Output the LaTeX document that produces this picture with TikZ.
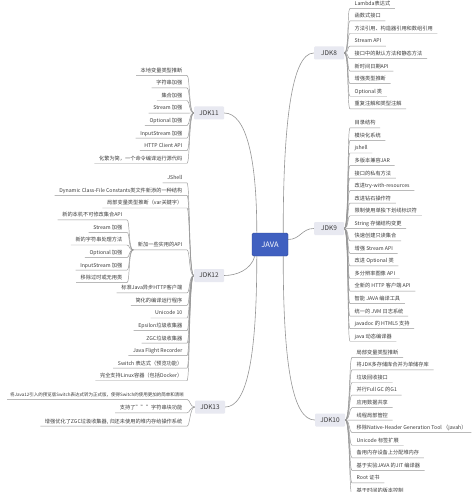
\documentclass[tikz,border=0pt]{standalone}
\usepackage{fontspec}
\setmainfont{Noto Sans CJK SC}
\usetikzlibrary{positioning}
\definecolor{javablue}{RGB}{64,96,192}
\definecolor{javaedge}{RGB}{45,70,150}
\definecolor{hubgrey}{RGB}{232,233,241}
\definecolor{linegrey}{RGB}{150,150,150}
\definecolor{textgrey}{RGB}{60,60,60}

\begin{document}
\begin{tikzpicture}[
    x=1pt, y=-1pt,
    node distance=3.15pt,
    root/.style={draw=javaedge, fill=javablue, rounded corners=1.5pt, text=white, font=\fontsize{7.5}{8}\selectfont, minimum width=36pt, minimum height=23pt},
    hub/.style={fill=hubgrey, rounded corners=1pt, text=textgrey, font=\fontsize{6.5}{7}\selectfont, minimum width=30pt, minimum height=13pt},
    leaf/.style={text=textgrey, font=\fontsize{5.2}{6}\selectfont, minimum height=9pt, inner xsep=4.5pt, inner ysep=0pt, text height=4.2pt, text depth=1pt},
    leafr/.style={leaf, anchor=north west},
    leafl/.style={leaf, anchor=north east},
    narrow/.style={font=\fontsize{4.5}{5}\selectfont, inner xsep=3pt},
    trunk/.style={draw=linegrey, line width=0.6pt},
    twig/.style={draw=linegrey, line width=0.45pt}
]
\useasboundingbox[fill=white] (0,0) rectangle (474,492);

% centre and versions
\node[root] (java) at (270,244.5) {JAVA};
\node[hub] (jdk8) at (329,53) {JDK8};
\node[hub] (jdk9) at (329,228.5) {JDK9};
\node[hub] (jdk10) at (330,420) {JDK10};
\node[hub] (jdk11) at (209,113) {JDK11};
\node[hub] (jdk12) at (209,275.5) {JDK12};
\node[hub] (jdk13) at (210,407) {JDK13};

\draw[trunk] ([xshift=-5pt]java.north east) .. controls +(0,-110) and +(-22,0) .. (jdk8.west);
\draw[trunk] ([yshift=5pt]java.east) .. controls +(12,0) and +(-12,0) .. (jdk9.west);
\draw[trunk] ([xshift=-5pt]java.south east) .. controls +(0,110) and +(-22,0) .. (jdk10.west);
\draw[trunk] ([xshift=5pt]java.north west) .. controls +(0,-75) and +(22,0) .. (jdk11.east);
\draw[trunk] ([xshift=3pt]java.south west) .. controls +(-4,14) and +(12,0) .. (jdk12.east);
\draw[trunk] ([xshift=5pt]java.south west) .. controls +(0,100) and +(22,0) .. (jdk13.east);

% JDK8
\node[leafr] (l8a) at (350,-1) {Lambda表达式};
\node[below=of l8a.south west, leafr] (l8b) {函数式接口};
\node[below=of l8b.south west, leafr] (l8c) {方法引用、构造器引用和数组引用};
\node[below=of l8c.south west, leafr] (l8d) {Stream API};
\node[below=of l8d.south west, leafr] (l8e) {接口中的默认方法和静态方法};
\node[below=of l8e.south west, leafr] (l8f) {新时间日期API};
\node[below=of l8f.south west, leafr] (l8g) {增强类型推断};
\node[below=of l8g.south west, leafr] (l8h) {Optional 类};
\node[below=of l8h.south west, leafr] (l8i) {重复注解和类型注解};

\draw[twig] (jdk8.east) .. controls +(5,0) and +(-3,0) .. (l8a.south west) -- (l8a.south east);
\draw[twig] (jdk8.east) .. controls +(5,0) and +(-3,0) .. (l8b.south west) -- (l8b.south east);
\draw[twig] (jdk8.east) .. controls +(5,0) and +(-3,0) .. (l8c.south west) -- (l8c.south east);
\draw[twig] (jdk8.east) .. controls +(5,0) and +(-3,0) .. (l8d.south west) -- (l8d.south east);
\draw[twig] (jdk8.east) .. controls +(5,0) and +(-3,0) .. (l8e.south west) -- (l8e.south east);
\draw[twig] (jdk8.east) .. controls +(5,0) and +(-3,0) .. (l8f.south west) -- (l8f.south east);
\draw[twig] (jdk8.east) .. controls +(5,0) and +(-3,0) .. (l8g.south west) -- (l8g.south east);
\draw[twig] (jdk8.east) .. controls +(5,0) and +(-3,0) .. (l8h.south west) -- (l8h.south east);
\draw[twig] (jdk8.east) .. controls +(5,0) and +(-3,0) .. (l8i.south west) -- (l8i.south east);

% JDK9
\node[leafr] (l9a) at (350,118.5) {目录结构};
\node[below=of l9a.south west, leafr] (l9b) {模块化系统};
\node[below=of l9b.south west, leafr] (l9c) {jshell};
\node[below=of l9c.south west, leafr] (l9d) {多版本兼容JAR};
\node[below=of l9d.south west, leafr] (l9e) {接口的私有方法};
\node[below=of l9e.south west, leafr] (l9f) {改进try-with-resources};
\node[below=of l9f.south west, leafr] (l9g) {改进钻石操作符};
\node[below=of l9g.south west, leafr] (l9h) {限制使用单独下划线标识符};
\node[below=of l9h.south west, leafr] (l9i) {String 存储结构变更};
\node[below=of l9i.south west, leafr] (l9j) {快速创建只读集合};
\node[below=of l9j.south west, leafr] (l9k) {增强 Stream API};
\node[below=of l9k.south west, leafr] (l9l) {改进 Optional 类};
\node[below=of l9l.south west, leafr] (l9m) {多分辨率图像 API};
\node[below=of l9m.south west, leafr] (l9n) {全新的 HTTP 客户端 API};
\node[below=of l9n.south west, leafr] (l9o) {智能 JAVA 编译工具};
\node[below=of l9o.south west, leafr] (l9p) {统一的 JVM 日志系统};
\node[below=of l9p.south west, leafr] (l9q) {javadoc 的 HTML5 支持};
\node[below=of l9q.south west, leafr] (l9r) {java 动态编译器};

\draw[twig] (jdk9.east) .. controls +(5,0) and +(-3,0) .. (l9a.south west) -- (l9a.south east);
\draw[twig] (jdk9.east) .. controls +(5,0) and +(-3,0) .. (l9b.south west) -- (l9b.south east);
\draw[twig] (jdk9.east) .. controls +(5,0) and +(-3,0) .. (l9c.south west) -- (l9c.south east);
\draw[twig] (jdk9.east) .. controls +(5,0) and +(-3,0) .. (l9d.south west) -- (l9d.south east);
\draw[twig] (jdk9.east) .. controls +(5,0) and +(-3,0) .. (l9e.south west) -- (l9e.south east);
\draw[twig] (jdk9.east) .. controls +(5,0) and +(-3,0) .. (l9f.south west) -- (l9f.south east);
\draw[twig] (jdk9.east) .. controls +(5,0) and +(-3,0) .. (l9g.south west) -- (l9g.south east);
\draw[twig] (jdk9.east) .. controls +(5,0) and +(-3,0) .. (l9h.south west) -- (l9h.south east);
\draw[twig] (jdk9.east) .. controls +(5,0) and +(-3,0) .. (l9i.south west) -- (l9i.south east);
\draw[twig] (jdk9.east) .. controls +(5,0) and +(-3,0) .. (l9j.south west) -- (l9j.south east);
\draw[twig] (jdk9.east) .. controls +(5,0) and +(-3,0) .. (l9k.south west) -- (l9k.south east);
\draw[twig] (jdk9.east) .. controls +(5,0) and +(-3,0) .. (l9l.south west) -- (l9l.south east);
\draw[twig] (jdk9.east) .. controls +(5,0) and +(-3,0) .. (l9m.south west) -- (l9m.south east);
\draw[twig] (jdk9.east) .. controls +(5,0) and +(-3,0) .. (l9n.south west) -- (l9n.south east);
\draw[twig] (jdk9.east) .. controls +(5,0) and +(-3,0) .. (l9o.south west) -- (l9o.south east);
\draw[twig] (jdk9.east) .. controls +(5,0) and +(-3,0) .. (l9p.south west) -- (l9p.south east);
\draw[twig] (jdk9.east) .. controls +(5,0) and +(-3,0) .. (l9q.south west) -- (l9q.south east);
\draw[twig] (jdk9.east) .. controls +(5,0) and +(-3,0) .. (l9r.south west) -- (l9r.south east);

% JDK10
\node[leafr] (l10a) at (352,348) {局部变量类型推断};
\node[below=of l10a.south west, leafr] (l10b) {将JDK多存储库合并为单储存库};
\node[below=of l10b.south west, leafr] (l10c) {垃圾回收接口};
\node[below=of l10c.south west, leafr] (l10d) {并行Full GC 的G1};
\node[below=of l10d.south west, leafr] (l10e) {应用数据共享};
\node[below=of l10e.south west, leafr] (l10f) {线程局部管控};
\node[below=of l10f.south west, leafr] (l10g) {移除Native-Header Generation Tool （javah）};
\node[below=of l10g.south west, leafr] (l10h) {Unicode 标签扩展};
\node[below=of l10h.south west, leafr] (l10i) {备用内存设备上分配堆内存};
\node[below=of l10i.south west, leafr] (l10j) {基于实验JAVA 的JIT 编译器};
\node[below=of l10j.south west, leafr] (l10k) {Root 证书};
\node[below=of l10k.south west, leafr] (l10l) {基于时间的版本控制};

\draw[twig] (jdk10.east) .. controls +(5,0) and +(-3,0) .. (l10a.south west) -- (l10a.south east);
\draw[twig] (jdk10.east) .. controls +(5,0) and +(-3,0) .. (l10b.south west) -- (l10b.south east);
\draw[twig] (jdk10.east) .. controls +(5,0) and +(-3,0) .. (l10c.south west) -- (l10c.south east);
\draw[twig] (jdk10.east) .. controls +(5,0) and +(-3,0) .. (l10d.south west) -- (l10d.south east);
\draw[twig] (jdk10.east) .. controls +(5,0) and +(-3,0) .. (l10e.south west) -- (l10e.south east);
\draw[twig] (jdk10.east) .. controls +(5,0) and +(-3,0) .. (l10f.south west) -- (l10f.south east);
\draw[twig] (jdk10.east) .. controls +(5,0) and +(-3,0) .. (l10g.south west) -- (l10g.south east);
\draw[twig] (jdk10.east) .. controls +(5,0) and +(-3,0) .. (l10h.south west) -- (l10h.south east);
\draw[twig] (jdk10.east) .. controls +(5,0) and +(-3,0) .. (l10i.south west) -- (l10i.south east);
\draw[twig] (jdk10.east) .. controls +(5,0) and +(-3,0) .. (l10j.south west) -- (l10j.south east);
\draw[twig] (jdk10.east) .. controls +(5,0) and +(-3,0) .. (l10k.south west) -- (l10k.south east);
\draw[twig] (jdk10.east) .. controls +(5,0) and +(-3,0) .. (l10l.south west) -- (l10l.south east);

% JDK11
\node[leafl] (l11a) at (187,66) {本地变量类型推断};
\node[below=of l11a.south east, leafl] (l11b) {字符串加强};
\node[below=of l11b.south east, leafl] (l11c) {集合加强};
\node[below=of l11c.south east, leafl] (l11d) {Stream 加强};
\node[below=of l11d.south east, leafl] (l11e) {Optional 加强};
\node[below=of l11e.south east, leafl] (l11f) {InputStream 加强};
\node[below=of l11f.south east, leafl] (l11g) {HTTP Client API};
\node[below=of l11g.south east, leafl] (l11h) {化繁为简，一个命令编译运行源代码};

\draw[twig] (jdk11.west) .. controls +(-5,0) and +(3,0) .. (l11a.south east) -- (l11a.south west);
\draw[twig] (jdk11.west) .. controls +(-5,0) and +(3,0) .. (l11b.south east) -- (l11b.south west);
\draw[twig] (jdk11.west) .. controls +(-5,0) and +(3,0) .. (l11c.south east) -- (l11c.south west);
\draw[twig] (jdk11.west) .. controls +(-5,0) and +(3,0) .. (l11d.south east) -- (l11d.south west);
\draw[twig] (jdk11.west) .. controls +(-5,0) and +(3,0) .. (l11e.south east) -- (l11e.south west);
\draw[twig] (jdk11.west) .. controls +(-5,0) and +(3,0) .. (l11f.south east) -- (l11f.south west);
\draw[twig] (jdk11.west) .. controls +(-5,0) and +(3,0) .. (l11g.south east) -- (l11g.south west);
\draw[twig] (jdk11.west) .. controls +(-5,0) and +(3,0) .. (l11h.south east) -- (l11h.south west);

% JDK12
\node[leafl] (l12a) at (187,173.5) {JShell};
\node[below=of l12a.south east, leafl] (l12b) {Dynamic Class-File Constants类文件新添的一种结构};
\node[below=of l12b.south east, leafl] (l12c) {局部变量类型推断（var关键字）};
\node[leafl] (api) at (187,240.5) {新加一些实用的API};
\node[leafl] (api1) at (127,210.5) {新的本机不可修改集合API};
\node[below=of api1.south east, leafl] (api2) {Stream 加强};
\node[below=of api2.south east, leafl] (api3) {新的字符串处理方法};
\node[below=of api3.south east, leafl] (api4) {Optional 加强};
\node[below=of api4.south east, leafl] (api5) {InputStream 加强};
\node[below=of api5.south east, leafl] (api6) {移除过时或无用类};
\node[leafl] (l12d) at (187,283.5) {标准Java异步HTTP客户端};
\node[below=of l12d.south east, leafl] (l12e) {简化的编译运行程序};
\node[below=of l12e.south east, leafl] (l12f) {Unicode 10};
\node[below=of l12f.south east, leafl] (l12g) {Epsilon垃圾收集器};
\node[below=of l12g.south east, leafl] (l12h) {ZGC垃圾收集器};
\node[below=of l12h.south east, leafl] (l12i) {Java Flight Recorder};
\node[below=of l12i.south east, leafl] (l12j) {Switch 表达式（预览功能）};
\node[below=of l12j.south east, leafl] (l12k) {完全支持Linux容器（包括Docker）};

\draw[twig] (jdk12.west) .. controls +(-5,0) and +(3,0) .. (l12a.south east) -- (l12a.south west);
\draw[twig] (jdk12.west) .. controls +(-5,0) and +(3,0) .. (l12b.south east) -- (l12b.south west);
\draw[twig] (jdk12.west) .. controls +(-5,0) and +(3,0) .. (l12c.south east) -- (l12c.south west);
\draw[twig] (jdk12.west) .. controls +(-5,0) and +(3,0) .. (api.south east) -- (api.south west);
\draw[twig] (jdk12.west) .. controls +(-5,0) and +(3,0) .. (l12d.south east) -- (l12d.south west);
\draw[twig] (jdk12.west) .. controls +(-5,0) and +(3,0) .. (l12e.south east) -- (l12e.south west);
\draw[twig] (jdk12.west) .. controls +(-5,0) and +(3,0) .. (l12f.south east) -- (l12f.south west);
\draw[twig] (jdk12.west) .. controls +(-5,0) and +(3,0) .. (l12g.south east) -- (l12g.south west);
\draw[twig] (jdk12.west) .. controls +(-5,0) and +(3,0) .. (l12h.south east) -- (l12h.south west);
\draw[twig] (jdk12.west) .. controls +(-5,0) and +(3,0) .. (l12i.south east) -- (l12i.south west);
\draw[twig] (jdk12.west) .. controls +(-5,0) and +(3,0) .. (l12j.south east) -- (l12j.south west);
\draw[twig] (jdk12.west) .. controls +(-5,0) and +(3,0) .. (l12k.south east) -- (l12k.south west);
\draw[twig] (api.south west) .. controls +(-5,0) and +(3,0) .. (api1.south east) -- (api1.south west);
\draw[twig] (api.south west) .. controls +(-5,0) and +(3,0) .. (api2.south east) -- (api2.south west);
\draw[twig] (api.south west) .. controls +(-5,0) and +(3,0) .. (api3.south east) -- (api3.south west);
\draw[twig] (api.south west) .. controls +(-5,0) and +(3,0) .. (api4.south east) -- (api4.south west);
\draw[twig] (api.south west) .. controls +(-5,0) and +(3,0) .. (api5.south east) -- (api5.south west);
\draw[twig] (api.south west) .. controls +(-5,0) and +(3,0) .. (api6.south east) -- (api6.south west);

% JDK13
\node[leafl, narrow] (l13a) at (187,390) {将Java12引入的预览版Switch表达式转为正式版，使得Switch的使用更加的简单和清晰};
\node[below=4pt of l13a.south east, leafl] (l13b) {支持了"""字符串块功能};
\node[below=4pt of l13b.south east, leafl] (l13c) {增强优化了ZGC垃圾收集器, 归还未使用的堆内存给操作系统};

\draw[twig] (jdk13.west) .. controls +(-5,0) and +(3,0) .. (l13a.south east) -- (l13a.south west);
\draw[twig] (jdk13.west) .. controls +(-5,0) and +(3,0) .. (l13b.south east) -- (l13b.south west);
\draw[twig] (jdk13.west) .. controls +(-5,0) and +(3,0) .. (l13c.south east) -- (l13c.south west);

\end{tikzpicture}
\end{document}
